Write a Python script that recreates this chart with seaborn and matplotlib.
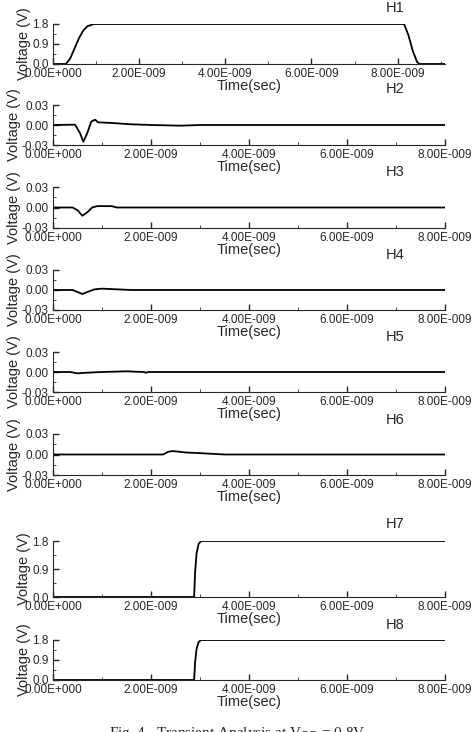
import matplotlib
matplotlib.use("Agg")
import matplotlib.pyplot as plt
import seaborn as sns
import numpy as np
import pandas as pd
from matplotlib.ticker import MultipleLocator, FuncFormatter

sns.set_style("ticks")
plt.rcParams['font.family'] = ['Liberation Sans', 'DejaVu Sans']

t1 = [0, 0.3e-9, 0.4e-9, 0.5e-9, 0.6e-9, 0.7e-9, 0.8e-9, 0.95e-9, 8.15e-9, 8.25e-9, 8.35e-9, 8.45e-9, 8.5e-9, 9.1e-9]
v1 = [0, 0, 0.25, 0.7, 1.15, 1.5, 1.7, 1.8, 1.8, 1.3, 0.6, 0.1, 0, 0]
t2 = [0, 0.45e-9, 0.55e-9, 0.62e-9, 0.7e-9, 0.78e-9, 0.86e-9, 0.92e-9, 1.2e-9, 1.6e-9, 2.0e-9, 2.6e-9, 3.0e-9, 8e-9]
v2 = [0, 0.0005, -0.012, -0.025, -0.012, 0.005, 0.008, 0.004, 0.003, 0.001, 0.0, -0.001, 0, 0]
t3 = [0, 0.4e-9, 0.5e-9, 0.6e-9, 0.7e-9, 0.8e-9, 0.9e-9, 1.2e-9, 1.3e-9, 8e-9]
v3 = [0, 0, -0.004, -0.012, -0.007, 0.0, 0.002, 0.002, 0.0, 0]
t4 = [0, 0.4e-9, 0.5e-9, 0.6e-9, 0.7e-9, 0.85e-9, 1.0e-9, 1.3e-9, 1.6e-9, 8e-9]
v4 = [0, 0, -0.003, -0.006, -0.003, 0.001, 0.002, 0.001, 0, 0]
t5 = [0, 0.35e-9, 0.5e-9, 0.7e-9, 1.0e-9, 1.5e-9, 1.85e-9, 1.9e-9, 1.95e-9, 2.2e-9, 8e-9]
v5 = [0, 0, -0.002, -0.001, 0.0, 0.001, 0.0, -0.001, 0.0, 0, 0]
t6 = [0, 2.25e-9, 2.35e-9, 2.45e-9, 2.7e-9, 3.0e-9, 3.5e-9, 8e-9]
v6 = [0, 0, 0.004, 0.005, 0.003, 0.002, 0.0, 0]
t7 = [0, 2.88e-9, 2.9e-9, 2.93e-9, 2.97e-9, 3.02e-9, 8e-9]
v7 = [0, 0, 0.8, 1.4, 1.7, 1.8, 1.8]
t8 = [0, 2.88e-9, 2.9e-9, 2.93e-9, 2.97e-9, 3.02e-9, 8e-9]
v8 = [0, 0, 0.8, 1.4, 1.7, 1.8, 1.8]

names = ["H1", "H2", "H3", "H4", "H5", "H6", "H7", "H8"]
series = [(t1, v1), (t2, v2), (t3, v3), (t4, v4), (t5, v5), (t6, v6), (t7, v7), (t8, v8)]
xmax = [9.1e-9] + [8e-9] * 7

W, H = 474, 732
fig = plt.figure(figsize=(W / 100, H / 100), dpi=100)
boxes = [(24, 64, 8), (105, 145, 89), (187, 228, 172), (270, 310, 255),
         (352, 392, 337), (434, 475, 420), (541, 597, 524), (640, 680, 625)]
fmt = FuncFormatter(lambda x, p: "0.00E+000" if abs(x) < 1e-15 else "%.2fE-%03d" % (x / 1e-9, 9))
for i, (name, (t, v), (top, bot, ly)) in enumerate(zip(names, series, boxes)):
    x0, x1 = 53, 445
    ax = fig.add_axes([x0 / W, 1 - bot / H, (x1 - x0) / W, (bot - top) / H])
    df = pd.DataFrame({"t": t, "v": v})
    sns.lineplot(data=df, x="t", y="v", ax=ax, color="black", lw=1.3)
    ax.set_xlim(0, xmax[i])
    if name in ("H1", "H7", "H8"):
        ax.set_ylim(0, 1.8)
        ax.set_yticks([0, 0.9, 1.8])
        ax.set_yticklabels(["0.0", "0.9", "1.8"])
    else:
        ax.set_ylim(-0.03, 0.03)
        ax.set_yticks([-0.03, 0, 0.03])
        ax.set_yticklabels(["-0.03", "0.00", "0.03"])
    ax.xaxis.set_major_locator(MultipleLocator(2e-9))
    ax.xaxis.set_minor_locator(MultipleLocator(1e-9))
    ax.xaxis.set_major_formatter(fmt)
    ax.tick_params(direction="in", labelsize=8.5, length=4, width=1)
    ax.tick_params(which="minor", direction="in", length=2)
    ax.yaxis.set_minor_locator(MultipleLocator((ax.get_ylim()[1] - ax.get_ylim()[0]) / 4))
    ax.tick_params(axis="x", pad=3)
    ax.tick_params(axis="y", pad=3)
    sns.despine(ax=ax)
    ax.set_xlabel("Time(sec)", fontsize=10.5, labelpad=-1)
    ax.set_ylabel("Voltage (V)", fontsize=10.5, labelpad=1)
    fig.text(395 / W, 1 - ly / H, name, fontsize=10.5, ha="center", va="center")

fig.text(237 / W, 1 - 733 / H, "Fig. 4.  Transient Analysis at V$_{DD}$ = 0.8V",
         fontsize=11, ha="center", va="center", family="Liberation Serif")
fig.savefig("out.png", dpi=100)
